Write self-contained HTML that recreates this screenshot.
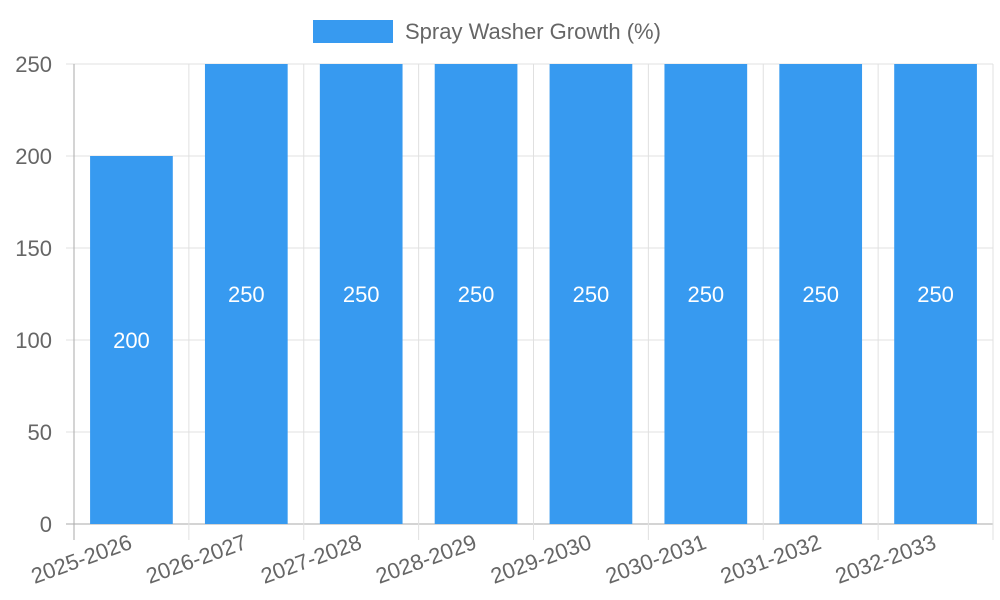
<!DOCTYPE html>
<html><head><meta charset="utf-8"><style>
html,body{margin:0;padding:0;background:#fff;}
svg{display:block;font-family:"Liberation Sans",sans-serif;}
</style></head><body>
<svg id="chart" width="1000" height="600"></svg>
<script>
const categories=["2025-2026","2026-2027","2027-2028","2028-2029","2029-2030","2030-2031","2031-2032","2032-2033"];
const growthValues=[200,250,250,250,250,250,250,250];
const yTicks=[0,50,100,150,200,250];
const seriesName="Spray Washer Growth (%)";

const NS="http://www.w3.org/2000/svg";
const svg=document.getElementById('chart');
const L=74,R=993,T=64,B=524,yMax=250;
const band=(R-L)/categories.length;
const y=v=>B-(v/yMax)*(B-T);
const x=i=>L+i*band;
function mk(tag,attrs,parent){const e=document.createElementNS(NS,tag);for(const k in attrs)e.setAttribute(k,attrs[k]);(parent||svg).appendChild(e);return e;}

// horizontal grid + y ticks
yTicks.forEach(t=>{
  const g=mk('line',{x1:66,x2:R,y1:y(t),y2:y(t),stroke:t===0?'#aaa':'#e0e0e0','stroke-width':1});
  
  
  const lb=mk('text',{x:52,y:y(t)+8,'text-anchor':'end','font-size':22,fill:'#666'});
  lb.textContent=t;
  
  
});
// vertical grid
for(let i=0;i<=categories.length;i++){
  const g=mk('line',{x1:x(i),x2:x(i),y1:T,y2:540,stroke:i===0?'#aaa':'#e0e0e0','stroke-width':1});
  
  
}
// bars
categories.forEach((c,i)=>{
  const v=growthValues[i];
  const bw=band*0.72;
  const bx=x(i)+(band-bw)/2;
  const r=mk('rect',{x:bx,y:y(v),width:bw,height:B-y(v),fill:'#379af0'});
  
  
  const vl=mk('text',{x:x(i)+band/2,y:(y(v)+B)/2+8,'text-anchor':'middle','font-size':22,fill:'#fff'});
  vl.textContent=v;
  
  
  const cx=x(i)+band/2+2, cy=548;
  const xl=mk('text',{x:cx,y:cy,'text-anchor':'end','font-size':22,fill:'#666',transform:`rotate(-20 ${cx} ${cy})`});
  xl.textContent=c;
  
  
});
// axis lines
const ya=mk('line',{x1:L,x2:L,y1:T,y2:B,stroke:'#aaa'});


// legend
const lg=mk('g',{});


const sw=mk('rect',{x:313,y:20,width:80,height:23,fill:'#379af0'},lg);


const lt=mk('text',{x:405,y:39,'font-size':22,fill:'#666'},lg);
lt.textContent=seriesName;


</script>
</body></html>
